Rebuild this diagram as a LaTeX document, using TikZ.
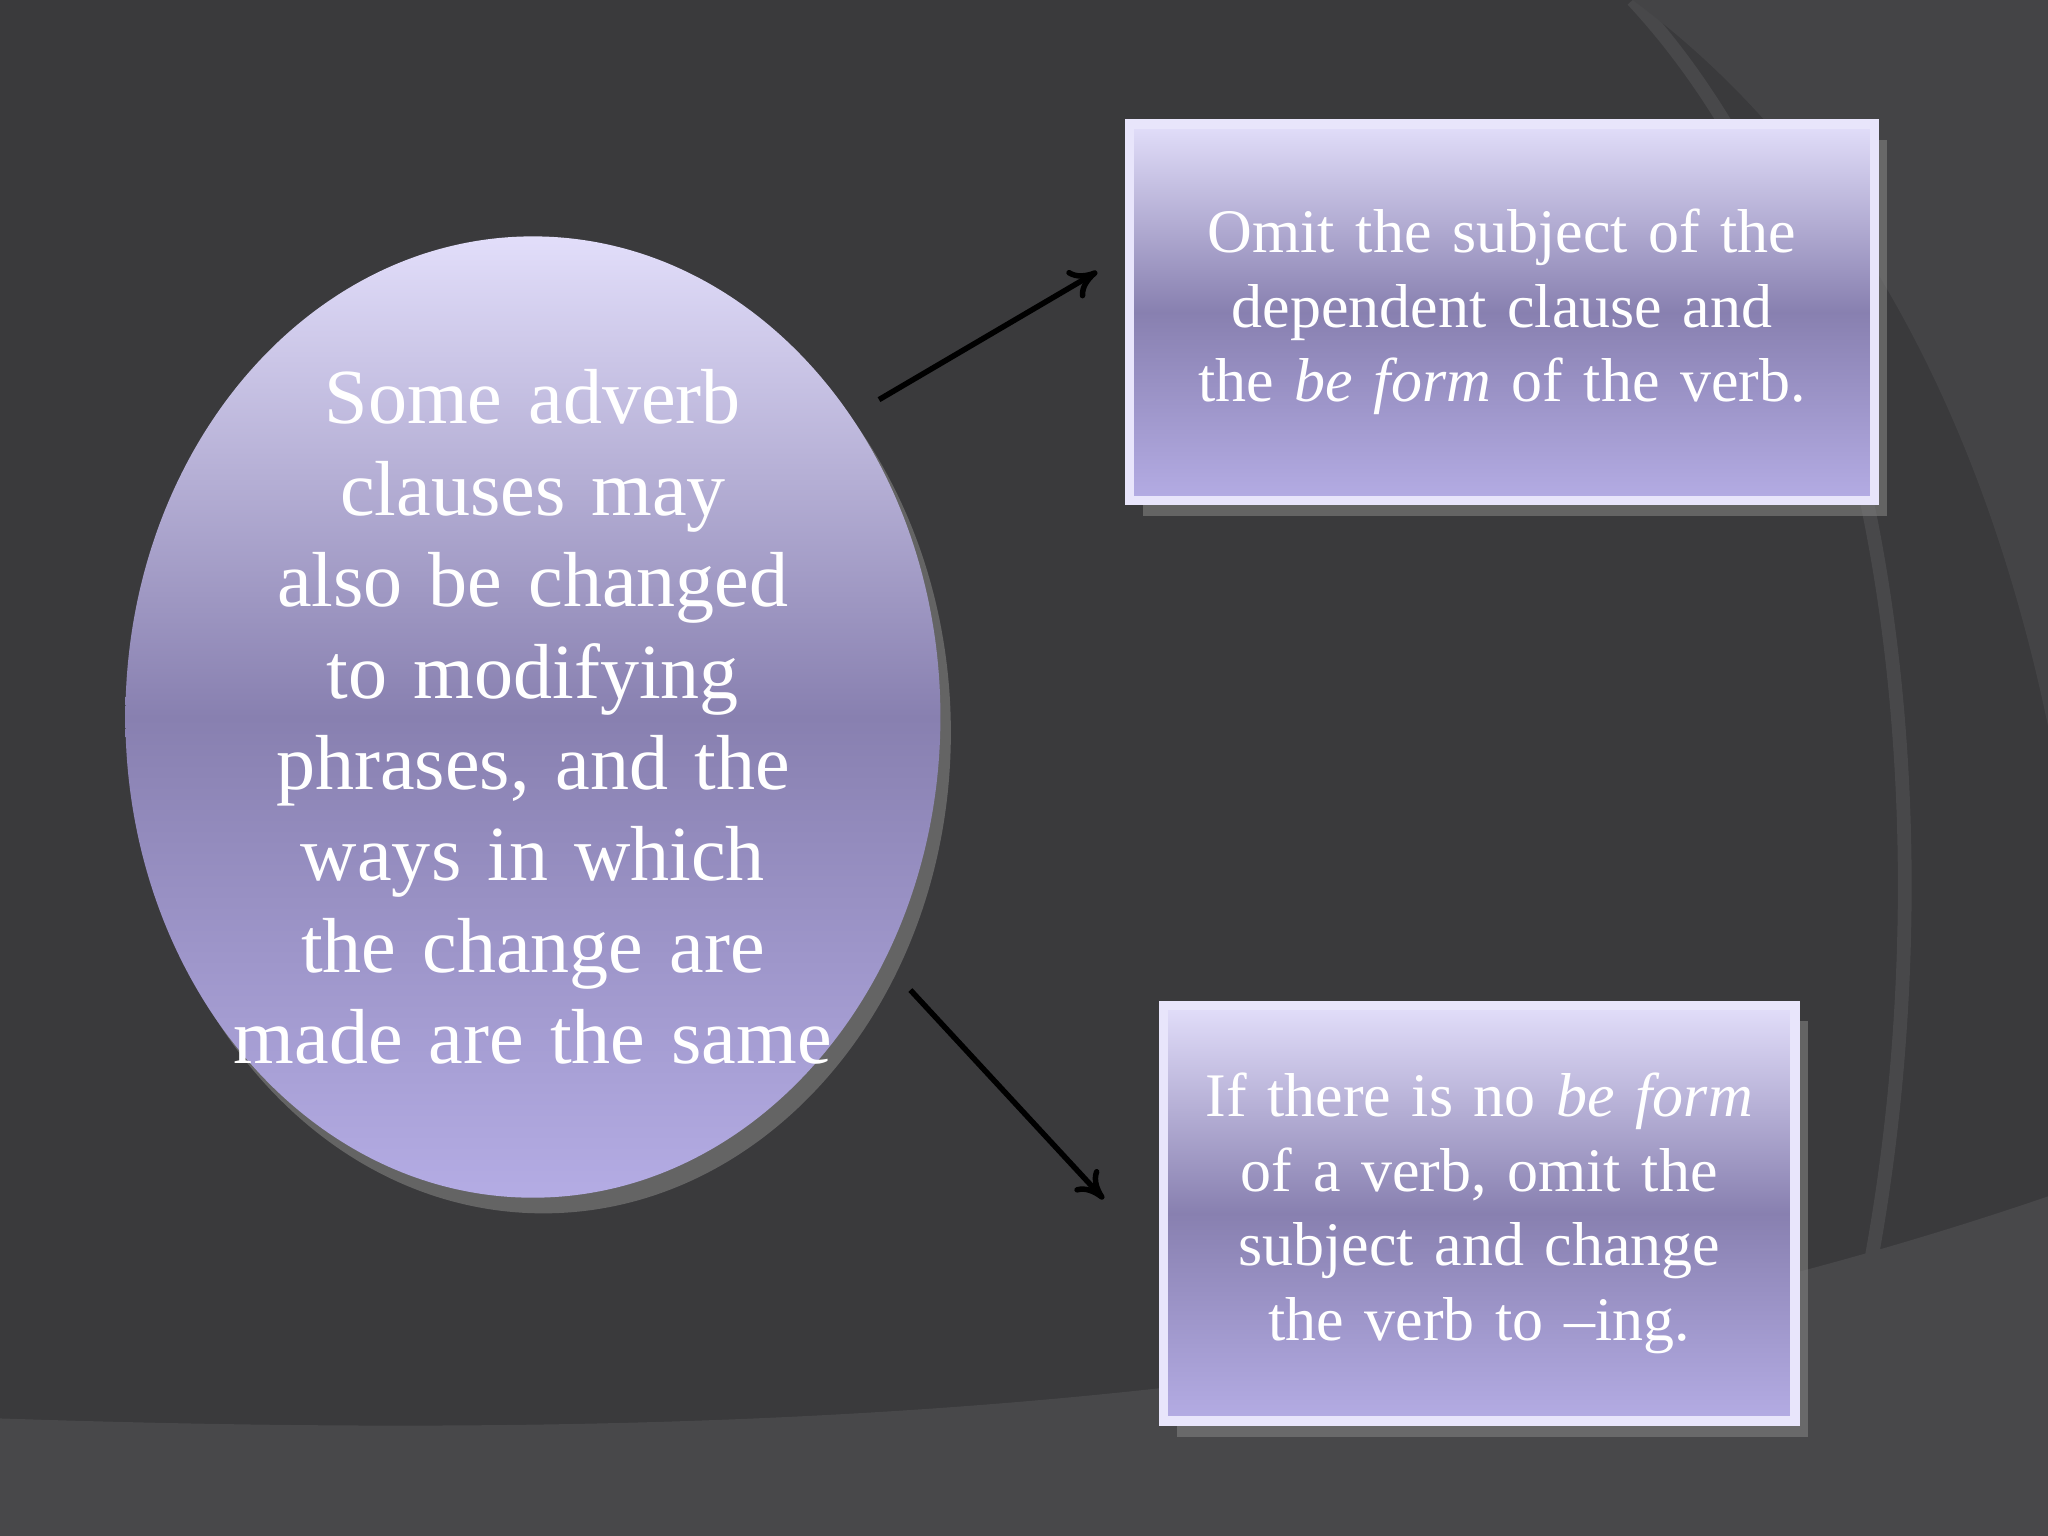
\documentclass[tikz,border=0pt]{standalone}
\usepackage{fontspec}
\setmainfont{Liberation Serif}
\usetikzlibrary{positioning,calc,shadows,shapes.geometric,arrows.meta}
\definecolor{slatebg}{HTML}{3A3A3C}
\definecolor{slateband}{HTML}{48484A}
\definecolor{lavtop}{HTML}{E2DEFA}
\definecolor{lavmid}{HTML}{8880B0}
\definecolor{lavbot}{HTML}{B4ACE4}
\tikzset{
  bubble/.style={
    ellipse, minimum width=6.24cm, minimum height=7.36cm, inner sep=0pt,
    top color=lavtop, bottom color=lavbot, middle color=lavmid,
    drop shadow={opacity=0.6,shadow xshift=0.08cm,shadow yshift=-0.12cm}
  },
  bubbletext/.style={
    text=white, align=center, text width=5.1cm,
    font=\fontsize{17}{19.9}\selectfont
  },
  tile/.style={
    rectangle, draw=lavtop!80, line width=2pt,
    top color=lavtop, bottom color=lavbot, middle color=lavmid,
    drop shadow={opacity=0.6,shadow xshift=0.1cm,shadow yshift=-0.12cm},
    text=white, align=center,
    font=\fontsize{13.5}{16.2}\selectfont
  },
  link/.style={-{To[length=6pt,width=7pt]}, line width=1.2pt, black}
}
\begin{document}
\begin{tikzpicture}
\useasboundingbox (0,0) rectangle (15.68,11.76);
\fill[slatebg] (0,0) rectangle (15.68,11.76);
% background bands
\fill[slateband] (0,0) -- (0,0.9) .. controls (6,0.7) and (11,1.0) .. (15.68,2.6) -- (15.68,0) -- cycle;
\draw[slateband,line width=3pt] (12.5,11.76) .. controls (14.6,9.5) and (15.0,5) .. (14.2,1.5);
\fill[slateband!70!slatebg] (15.68,6.2) .. controls (15.2,8.5) and (14.2,10.5) .. (12.5,11.76) -- (15.68,11.76) -- cycle;

\node[bubble] (clause) at (4.08,6.27) {};
\node[bubbletext] (clausetext) at (clause.center)
  {Some adverb clauses may also be changed to modifying phrases, and the ways in which the change are made are the same};
\node[tile, minimum width=5.7cm, minimum height=2.88cm, text width=5.1cm] (omit) at (11.5,9.37)
  {Omit the subject of the dependent clause and the \textit{be form} of the verb.};
\node[tile, minimum width=4.79cm, minimum height=3.18cm, text width=4.6cm] (noform) at (11.325,2.47)
  {If there is no \textit{be form} of a verb, omit the subject and change the verb to –ing.};

\coordinate (a1) at (6.73,8.70);
\coordinate (a2) at (8.40,9.68);
\coordinate (b1) at (6.97,4.18);
\coordinate (b2) at (8.45,2.58);
\draw[link] (a1) -- (a2);
\draw[link] (b1) -- (b2);
\end{tikzpicture}
\end{document}
